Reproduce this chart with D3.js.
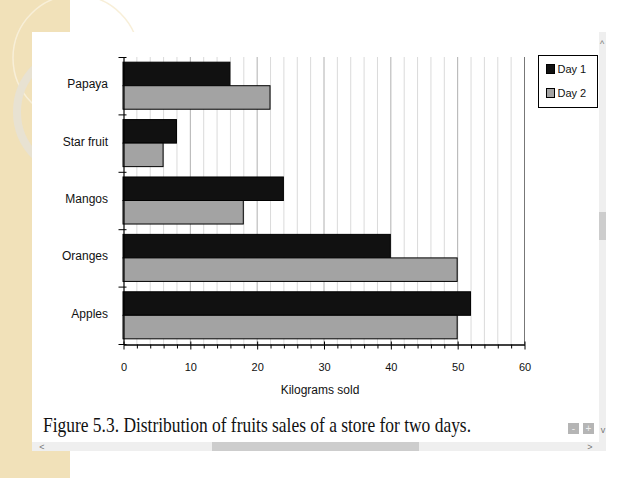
<!DOCTYPE html>
<html>
<head>
<meta charset="utf-8">
<script src="https://cdn.jsdelivr.net/npm/d3@7"></script>
<style>
  body { margin: 0; background: #fff; }
  svg { display: block; }
</style>
</head>
<body>
<div id="chart"></div>
<script>
// chart data
const fruits = ["Papaya", "Star fruit", "Mangos", "Oranges", "Apples"];
const day1 = [16, 8, 24, 40, 52];
const day2 = [22, 6, 18, 50, 50];
const seriesNames = ["Day 1", "Day 2"];
const seriesColors = ["#111111", "#a3a3a3"];
const xTicks = [0, 10, 20, 30, 40, 50, 60];
const xTitle = "Kilograms sold";
const caption = "Figure 5.3. Distribution of fruits sales of a store for two days.";

const W = 638, H = 478;
const svg = d3.select("#chart").append("svg")
    .attr("width", W)
    .attr("height", H);

// slide background: tan strip + rings
svg.append("rect").attr("x", 0).attr("y", 0).attr("width", 70).attr("height", H).attr("fill", "#f1e1b9");
svg.append("circle").attr("cx", 76).attr("cy", 58).attr("r", 63)
    .attr("fill", "none").attr("stroke", "#f8efd8").attr("stroke-width", 1.5);
svg.append("circle").attr("cx", 79).attr("cy", 112).attr("r", 62)
    .attr("fill", "none").attr("stroke", "#e8e2d2").attr("stroke-width", 8);

// white panel
svg.append("rect").attr("x", 32).attr("y", 32).attr("width", 574).attr("height", 419).attr("fill", "#fff");

// scrollbars
svg.append("rect").attr("x", 599).attr("y", 32).attr("width", 7).attr("height", 419).attr("fill", "#efefef");
svg.append("rect").attr("x", 599).attr("y", 212).attr("width", 7).attr("height", 28).attr("fill", "#cdcdcd");
svg.append("rect").attr("x", 32).attr("y", 442).attr("width", 574).attr("height", 9).attr("fill", "#efefef");
svg.append("rect").attr("x", 212).attr("y", 442).attr("width", 207).attr("height", 9).attr("fill", "#cdcdcd");
svg.append("text").attr("x", 602).attr("y", 47).attr("font-size", 9).attr("fill", "#777")
    .attr("text-anchor", "middle").attr("font-family", "Liberation Sans, Arial").text("^");
svg.append("text").attr("x", 603).attr("y", 433).attr("font-size", 9).attr("fill", "#777")
    .attr("text-anchor", "middle").attr("font-family", "Liberation Sans, Arial").text("v");
svg.append("text").attr("x", 42).attr("y", 450).attr("font-size", 9).attr("fill", "#777")
    .attr("text-anchor", "middle").attr("font-family", "Liberation Sans, Arial").text("<");
svg.append("text").attr("x", 590).attr("y", 450).attr("font-size", 9).attr("fill", "#777")
    .attr("text-anchor", "middle").attr("font-family", "Liberation Sans, Arial").text(">");
svg.append("rect").attr("x", 568).attr("y", 423).attr("width", 11).attr("height", 11).attr("fill", "#b5b5b5");
svg.append("rect").attr("x", 583).attr("y", 423).attr("width", 11).attr("height", 11).attr("fill", "#b5b5b5");
svg.append("text").attr("x", 573.5).attr("y", 432).attr("font-size", 10).attr("fill", "#eee")
    .attr("text-anchor", "middle").attr("font-family", "Liberation Sans, Arial").text("-");
svg.append("text").attr("x", 588.5).attr("y", 432).attr("font-size", 10).attr("fill", "#eee")
    .attr("text-anchor", "middle").attr("font-family", "Liberation Sans, Arial").text("+");

// scales
const x = d3.scaleLinear().domain([0, 60]).range([123, 524]);
const y = d3.scaleBand().domain(fruits).range([57, 344]).paddingInner(0).paddingOuter(0);
const ySub = d3.scaleBand().domain(seriesNames).range([0, y.bandwidth()]).paddingInner(0).paddingOuter(0.22);
const yEdge = d3.scaleLinear().domain([0, fruits.length]).range([57, 344]);

// gridlines every 2 kg, darker every 10
const gridVals = d3.range(2, 61, 2);
svg.append("g").selectAll("line")
    .data(gridVals)
    .join("line")
    .attr("x1", d => x(d) + 0.5)
    .attr("x2", d => x(d) + 0.5)
    .attr("y1", 57)
    .attr("y2", 344)
    .attr("stroke", d => d % 10 === 0 ? (d === 60 ? "#777" : "#b0b0b0") : "#dadada")
    .attr("stroke-width", 1);

// bars
const rows = fruits.map((f, i) => ({ fruit: f, values: [day1[i], day2[i]] }));
const groups = svg.append("g").selectAll("g")
    .data(rows)
    .join("g")
    .attr("transform", d => "translate(0," + y(d.fruit) + ")");
groups.selectAll("rect")
    .data(d => d.values.map((v, k) => ({ series: seriesNames[k], value: v, k: k })))
    .join("rect")
    .attr("x", x(0))
    .attr("y", d => ySub(d.series))
    .attr("width", d => x(d.value) - x(0))
    .attr("height", ySub.bandwidth())
    .attr("fill", d => seriesColors[d.k])
    .attr("stroke", "#000")
    .attr("stroke-width", 1);

// x axis: minor ticks every 2, major every 10
const xMinor = svg.append("g")
    .attr("transform", "translate(0.5,344.5)")
    .call(d3.axisBottom(x).tickValues(gridVals.filter(v => v % 10 !== 0)).tickSize(4).tickSizeOuter(0).tickFormat(""));
xMinor.select(".domain").remove();
xMinor.selectAll(".tick line").attr("stroke", "#000");

const xAxis = svg.append("g")
    .attr("transform", "translate(0.5,344.5)")
    .call(d3.axisBottom(x).tickValues(xTicks).tickSize(5).tickSizeOuter(0).tickPadding(14));
xAxis.selectAll(".tick line").attr("y1", -3).attr("stroke", "#000");
xAxis.select(".domain").attr("stroke", "#000").attr("stroke-width", 1.5);
xAxis.selectAll(".tick text")
    .attr("font-family", "Liberation Sans, Arial, sans-serif")
    .attr("font-size", 11)
    .attr("fill", "#111");

// y axis: ticks on category boundaries, labels at centres
const yTicks = svg.append("g")
    .attr("transform", "translate(123.5,0)")
    .call(d3.axisLeft(yEdge).tickValues(d3.range(0, fruits.length + 1)).tickSize(5).tickSizeOuter(0).tickFormat(""));
yTicks.selectAll(".tick line").attr("x2", -5).attr("x1", 3).attr("stroke", "#000");
yTicks.select(".domain").attr("stroke", "#000").attr("stroke-width", 1.2);

const yLabels = svg.append("g")
    .attr("transform", "translate(123,0)")
    .call(d3.axisLeft(y).tickSize(0).tickPadding(15));
yLabels.select(".domain").remove();
yLabels.selectAll(".tick text")
    .attr("font-family", "Liberation Sans, Arial, sans-serif")
    .attr("font-size", 12)
    .attr("fill", "#111")
    .attr("dy", "0.2em");

// x title
svg.append("text")
    .attr("x", 320)
    .attr("y", 394)
    .attr("text-anchor", "middle")
    .attr("font-family", "Liberation Sans, Arial, sans-serif")
    .attr("font-size", 12)
    .attr("fill", "#111")
    .text(xTitle);

// legend
const legend = svg.append("g").attr("transform", "translate(538.5,55.5)");
legend.append("rect").attr("width", 59).attr("height", 52).attr("fill", "#fff").attr("stroke", "#000");
const items = legend.selectAll("g.item")
    .data(seriesNames)
    .join("g")
    .attr("class", "item")
    .attr("transform", (d, i) => "translate(8," + (9 + i * 24) + ")");
items.append("rect").attr("width", 8).attr("height", 9)
    .attr("fill", (d, i) => seriesColors[i]).attr("stroke", "#000");
items.append("text")
    .attr("x", 11)
    .attr("y", 8.5)
    .attr("font-family", "Liberation Sans, Arial, sans-serif")
    .attr("font-size", 11)
    .attr("fill", "#111")
    .text(d => d);

// caption
svg.append("text")
    .attr("x", 43)
    .attr("y", 432)
    .attr("font-family", "Liberation Serif, Times New Roman, serif")
    .attr("font-size", 21)
    .attr("fill", "#111")
    .attr("textLength", 428)
    .attr("lengthAdjust", "spacingAndGlyphs")
    .text(caption);
</script>
</body>
</html>
